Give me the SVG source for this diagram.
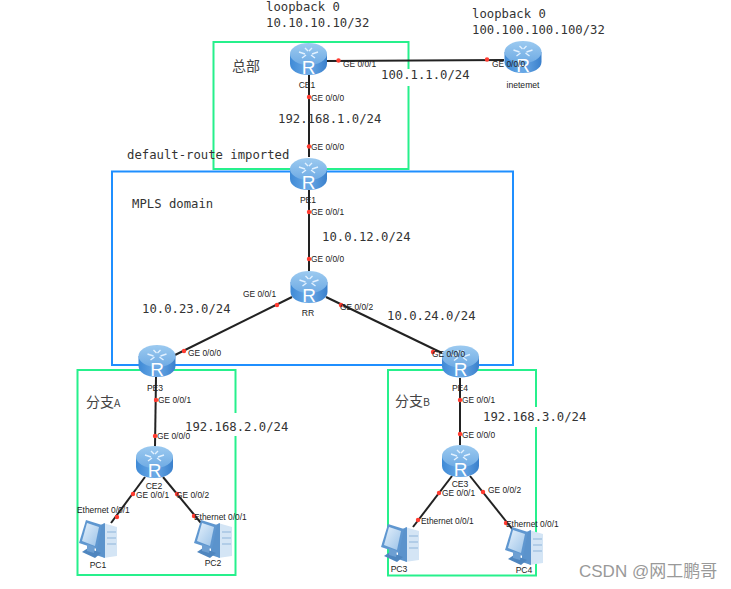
<svg xmlns="http://www.w3.org/2000/svg" width="731" height="589" viewBox="0 0 731 589">
<style>
.m{font-family:"DejaVu Sans Mono","Liberation Mono",monospace;font-size:12.25px;fill:#333}
.p{font-family:"Liberation Sans",Arial,sans-serif;font-size:8.4px;fill:#222}
.n{font-family:"Liberation Sans",Arial,sans-serif;font-size:8.6px;fill:#222;text-anchor:middle}
.c{font-family:"Noto Sans CJK SC","Liberation Sans",sans-serif;font-size:14px;fill:#444}
.g{fill:none;stroke:#26f08c;stroke-width:2}
.b{fill:none;stroke:#1f8fff;stroke-width:2}
.l{fill:none;stroke:#222;stroke-width:2}
.d{fill:#ff3b30}
</style>
<defs>
<linearGradient id="side" x1="0" x2="1" y1="0" y2="0"><stop offset="0" stop-color="#3f8ad6"/><stop offset=".5" stop-color="#6aa9e6"/><stop offset="1" stop-color="#3a80cc"/></linearGradient>
<linearGradient id="top" x1="0" x2="0" y1="0" y2="1"><stop offset="0" stop-color="#9ccaf0"/><stop offset="1" stop-color="#6fabe4"/></linearGradient>
<linearGradient id="scr" x1="0" x2="1" y1="0" y2="1"><stop offset="0" stop-color="#e4f0fb"/><stop offset="1" stop-color="#9cc3e8"/></linearGradient>
<g id="router">
<path d="M0 11V21C0 27.500 8 32 18.500 32S37 27.500 37 21V11Z" fill="url(#side)"/>
<ellipse cx="18.500" cy="11" rx="18.500" ry="11" fill="url(#top)"/>
<path d="M9 9l6 2M28 9l-6 2M12 15l4-3M25 15l-4-3M15 5l3 3M22 5l-3 3" stroke="#e2f1ff" stroke-width="1.400" fill="none"/>
<text x="18.500" y="30.500" text-anchor="middle" font-family="Liberation Sans,Arial,sans-serif" font-size="19" fill="#fff">R</text>
</g>
<g id="pc">
<path d="M24 3L38 7V36L24 38Z" fill="#d4e5f5"/>
<path d="M17 7L26 3V38L17 35Z" fill="#5b93cc"/>
<path d="M28 12h9M28 18h9M28 24h9" stroke="#8fb5da" stroke-width="1"/>
<path d="M7 0L23 5L18 29L0 23Z" fill="#5f97d0"/>
<path d="M8 3L20 7L16 26L3 21Z" fill="url(#scr)"/>
<path d="M3 32L9 28L22 33L16 38Z" fill="#4f86bf"/>
<path d="M8 24L16 27L15 33L8 31Z" fill="#6d9fd2"/>
</g>
</defs>

<g id="frames">
<rect class="g" x="213.500" y="42" width="195" height="127"/>
<rect class="g" x="77.500" y="370" width="158" height="205"/>
<rect class="g" x="388" y="370" width="148" height="205.500"/>
<rect class="b" x="112" y="171.500" width="401" height="193.500"/>
<rect x="404" y="69" width="8" height="17" fill="#fff"/>
<rect x="232" y="413" width="7" height="23" fill="#fff"/>
<rect x="533" y="407" width="7" height="20" fill="#fff"/>
</g>

<g id="connectors">
<path class="l" d="M327 61L504 60"/>
<path class="l" d="M309 75V157"/>
<path class="l" d="M309 190V271"/>
<path class="l" d="M292 297L175 355"/>
<path class="l" d="M326 297L442 353"/>
<path class="l" d="M156 377L155 447"/>
<path class="l" d="M460 378V445"/>
<path class="l" d="M145 477L111 523"/>
<path class="l" d="M163 477L201 523"/>
<path class="l" d="M452 476L413 527"/>
<path class="l" d="M470 476L513 530"/>
<g class="d">
<circle cx="338.500" cy="60.500" r="2.200"/><circle cx="487" cy="59.500" r="2.200"/>
<circle cx="309" cy="97" r="2.200"/><circle cx="309" cy="146.500" r="2.200"/>
<circle cx="309" cy="212" r="2.200"/><circle cx="309" cy="259" r="2.200"/>
<circle cx="277" cy="305" r="2.200"/><circle cx="341" cy="305" r="2.200"/>
<circle cx="184" cy="351" r="2.200"/><circle cx="433" cy="352" r="2.200"/>
<circle cx="156" cy="400" r="2.200"/><circle cx="155" cy="436" r="2.200"/>
<circle cx="460" cy="400" r="2.200"/><circle cx="460" cy="434" r="2.200"/>
<circle cx="133" cy="494" r="2.200"/><circle cx="177" cy="494" r="2.200"/>
<circle cx="117" cy="517" r="2.200"/><circle cx="194" cy="516" r="2.200"/>
<circle cx="439" cy="493" r="2.200"/><circle cx="483" cy="492" r="2.200"/>
<circle cx="418" cy="520" r="2.200"/><circle cx="506" cy="523" r="2.200"/>
</g>
</g>

<g id="CE1"><use href="#router" x="290" y="43"/><text class="n" x="307" y="88">CE1</text></g>
<g id="internet"><use href="#router" x="504.500" y="41"/><text class="n" x="523" y="87.500">inetemet</text></g>
<g id="PE1"><use href="#router" x="290" y="158"/><text class="n" x="308" y="203">PE1</text></g>
<g id="RR"><use href="#router" x="290.500" y="271"/><text class="n" x="308" y="316">RR</text></g>
<g id="PE3"><use href="#router" x="138.500" y="345"/><text class="n" x="155" y="391">PE3</text></g>
<g id="PE4"><use href="#router" x="442" y="345.500"/><text class="n" x="460" y="391">PE4</text></g>
<g id="CE2"><use href="#router" x="136" y="446"/><text class="n" x="154" y="488.500">CE2</text></g>
<g id="CE3"><use href="#router" x="442" y="445"/><text class="n" x="460" y="487">CE3</text></g>
<g id="PC1"><use href="#pc" x="79" y="520"/><text class="n" x="98" y="568">PC1</text></g>
<g id="PC2"><use href="#pc" x="194" y="520"/><text class="n" x="213" y="566">PC2</text></g>
<g id="PC3"><use href="#pc" x="381" y="524"/><text class="n" x="399" y="572">PC3</text></g>
<g id="PC4"><use href="#pc" x="505" y="527"/><text class="n" x="524" y="573">PC4</text></g>

<g id="port-labels">
<text class="p" x="343" y="67">GE 0/0/1</text>
<text class="p" x="492" y="66.500">GE 0/0/0</text>
<text class="p" x="311" y="100.500">GE 0/0/0</text>
<text class="p" x="311" y="149.500">GE 0/0/0</text>
<text class="p" x="311" y="215">GE 0/0/1</text>
<text class="p" x="311" y="262">GE 0/0/0</text>
<text class="p" x="243" y="297">GE 0/0/1</text>
<text class="p" x="340" y="310">GE 0/0/2</text>
<text class="p" x="188" y="356">GE 0/0/0</text>
<text class="p" x="432" y="357">GE 0/0/0</text>
<text class="p" x="158" y="403">GE 0/0/1</text>
<text class="p" x="157" y="439">GE 0/0/0</text>
<text class="p" x="136" y="497.500">GE 0/0/1</text>
<text class="p" x="176" y="497.500">GE 0/0/2</text>
<text class="p" x="77" y="513">Ethernet 0/0/1</text>
<text class="p" x="194" y="520">Ethernet 0/0/1</text>
<text class="p" x="462" y="403">GE 0/0/1</text>
<text class="p" x="462" y="438">GE 0/0/0</text>
<text class="p" x="442" y="496">GE 0/0/1</text>
<text class="p" x="488" y="493">GE 0/0/2</text>
<text class="p" x="421" y="524">Ethernet 0/0/1</text>
<text class="p" x="506" y="527">Ethernet 0/0/1</text>
</g>

<g id="annotations">
<text class="m" x="266" y="11">loopback 0</text>
<text class="m" x="266" y="27">10.10.10.10/32</text>
<text class="m" x="472" y="18">loopback 0</text>
<text class="m" x="472" y="33.500">100.100.100.100/32</text>
<text class="m" x="381" y="79">100.1.1.0/24</text>
<text class="m" x="278" y="122.500">192.168.1.0/24</text>
<text class="m" x="127" y="159">default-route imported</text>
<text class="m" x="132" y="208">MPLS domain</text>
<text class="m" x="322" y="241">10.0.12.0/24</text>
<text class="m" x="142" y="313">10.0.23.0/24</text>
<text class="m" x="387" y="320">10.0.24.0/24</text>
<text class="m" x="185" y="431">192.168.2.0/24</text>
<text class="m" x="483" y="421">192.168.3.0/24</text>
<text class="c" x="232" y="71">总部</text>
<text class="c" x="86" y="407">分支<tspan font-size="10.500">A</tspan></text>
<text class="c" x="395" y="406">分支<tspan font-size="10.500">B</tspan></text>
<text x="579" y="577" font-family="Liberation Sans,Noto Sans CJK SC,sans-serif" font-size="17" fill="#999">CSDN @网工鹏哥</text>
</g>
</svg>
